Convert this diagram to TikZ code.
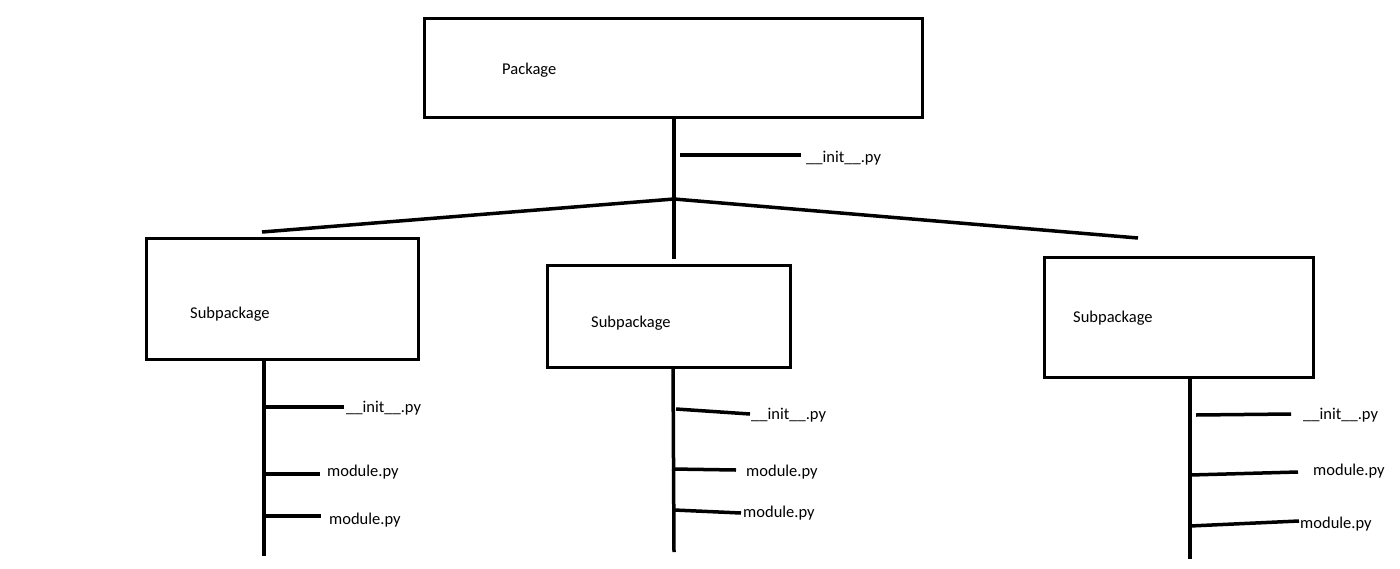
\documentclass[tikz,border=0pt]{standalone}
\usepackage{fontspec}
\setmainfont{Carlito}
\begin{document}
\begin{tikzpicture}[x=1pt,y=-1pt,
  box/.style={draw=black,line width=3pt,fill=none},
  lbl/.style={anchor=west,inner sep=0pt,yshift=-1.2pt,font=\fontsize{16.5}{18}\selectfont},
  ln/.style={line width=3.5pt,line cap=butt}]
\useasboundingbox[fill=white] (0,0) rectangle (1400,568);
% Package
\draw[box] (424,18) rectangle (922,117);
\node[lbl] (pkg) at (502,69) {Package};
\coordinate (pbot) at (674,117);
\coordinate (pfork) at (674,199);
\coordinate (pend) at (674,259);
\draw[ln] (pbot) -- (pend);
\coordinate (pi0) at (680,155);
\node[lbl] (pinit) at (806,157) {\_\_init\_\_.py};
\draw[ln] (pi0) -- (801,155);
\coordinate (bl) at (262,232);
\coordinate (br) at (1138,238);
\draw[ln] (bl) -- (pfork) -- (br);

% Left subpackage
\draw[box] (146,238) rectangle (418,359);
\node[lbl] (s1) at (190,313) {Subpackage};
\coordinate (s1t) at (264,359);
\coordinate (s1b) at (264,556);
\draw[ln] (s1t) -- (s1b);
\node[lbl] (s1i) at (346,407) {\_\_init\_\_.py};
\node[lbl] (s1m1) at (327,471) {module.py};
\node[lbl] (s1m2) at (329,519) {module.py};
\draw[ln] (264,407) -- (344,407);
\draw[ln] (264,474) -- (320,474);
\draw[ln] (264,516) -- (321,516);

% Middle subpackage
\draw[box] (547,265) rectangle (790,367);
\node[lbl] (s2) at (591,322) {Subpackage};
\coordinate (s2t) at (673,367);
\coordinate (s2b) at (674,552);
\draw[ln] (s2t) -- (s2b);
\node[lbl] (s2i) at (751,414) {\_\_init\_\_.py};
\node[lbl] (s2m1) at (746,471) {module.py};
\node[lbl] (s2m2) at (743,512) {module.py};
\draw[ln] (676,409) -- (750,414);
\draw[ln] (672,469) -- (736,470);
\draw[ln] (674,510) -- (741,513);

% Right subpackage
\draw[box] (1044,257) rectangle (1313,377);
\node[lbl] (s3) at (1073,317) {Subpackage};
\coordinate (s3t) at (1190,377);
\coordinate (s3b) at (1190,559);
\draw[ln] (s3t) -- (s3b);
\node[lbl] (s3i) at (1303,414) {\_\_init\_\_.py};
\node[lbl] (s3m1) at (1313,470) {module.py};
\node[lbl] (s3m2) at (1300,523) {module.py};
\draw[ln] (1196,415) -- (1291,414);
\draw[ln] (1190,475) -- (1298,472);
\draw[ln] (1190,526) -- (1299,521);
\end{tikzpicture}
\end{document}
